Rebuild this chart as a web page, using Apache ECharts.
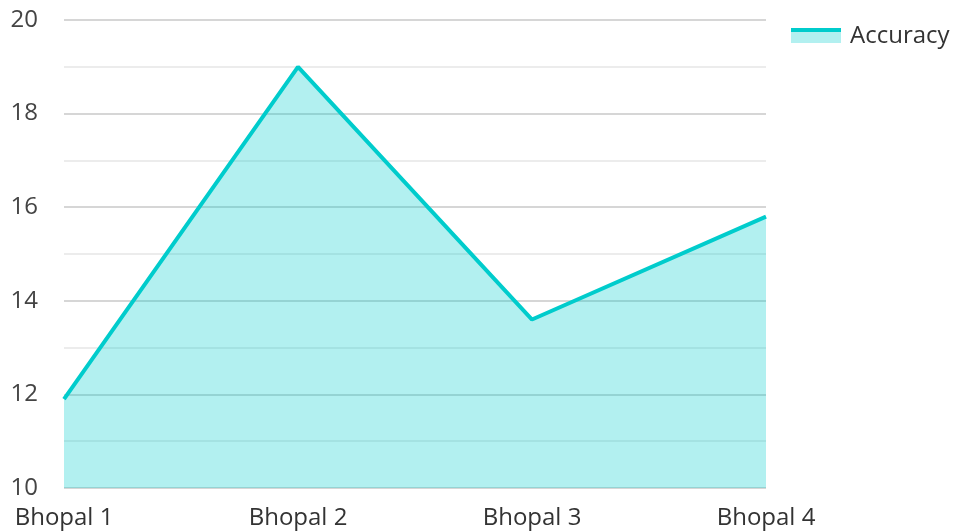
<!DOCTYPE html>
<html>
<head>
<meta charset="utf-8">
<script src="https://cdn.jsdelivr.net/npm/echarts@6/dist/echarts.min.js"></script>
<style>
  html, body { margin: 0; padding: 0; background: #fff; }
  #chart { width: 956px; height: 531px; }
</style>
</head>
<body>
<div id="chart"></div>
<script>
// chart data
const categories = ['Bhopal 1', 'Bhopal 2', 'Bhopal 3', 'Bhopal 4'];
const accuracy = [11.9, 19.0, 13.6, 15.8];
const seriesName = 'Accuracy';

const lineColor = '#00cccc';
const areaColor = 'rgba(0,204,204,0.3)';
const fontFamily = '"Open Sans", "Noto Sans", sans-serif';

const myChart = echarts.init(document.getElementById('chart'));

const option = {
	animation: false,
	textStyle: { fontFamily: fontFamily },
	grid: { left: 64, right: 190, top: 20, bottom: 43 },
	legend: {
		data: [seriesName],
		left: 786,
		top: 19,
		icon: 'rect',
		itemWidth: 50,
		itemHeight: 14,
		itemGap: 10,
		itemStyle: { color: areaColor, opacity: 1 },
		textStyle: {
			fontSize: 24,
			color: '#333',
			fontFamily: fontFamily,
			padding: [0, 0, 0, 4]
		}
	},
	graphic: [
		{
			// teal stroke on top of the legend swatch
			type: 'rect',
			shape: { x: 791, y: 28, width: 50, height: 4 },
			style: { fill: lineColor },
			silent: true,
			z: 100
		}
	],
	xAxis: {
		type: 'category',
		data: categories,
		boundaryGap: false,
		axisLine: { show: false },
		axisTick: { show: false },
		axisLabel: { fontSize: 24, color: '#333', margin: 18 }
	},
	yAxis: {
		type: 'value',
		min: 10,
		max: 20,
		interval: 2,
		axisLine: { show: false },
		axisTick: { show: false },
		axisLabel: { fontSize: 24, color: '#444', margin: 26 },
		splitLine: { lineStyle: { color: '#c8c8c8', width: 1.5 } },
		minorTick: { show: false, splitNumber: 2 },
		minorSplitLine: { show: true, lineStyle: { color: '#e6e6e6', width: 1.5 } }
	},
	series: [
		{
			name: seriesName,
			type: 'line',
			data: accuracy,
			symbol: 'none',
			lineStyle: { color: lineColor, width: 4 },
			itemStyle: { color: lineColor },
			areaStyle: { color: areaColor, opacity: 1 }
		}
	]
};

myChart.setOption(option);
</script>
</body>
</html>
